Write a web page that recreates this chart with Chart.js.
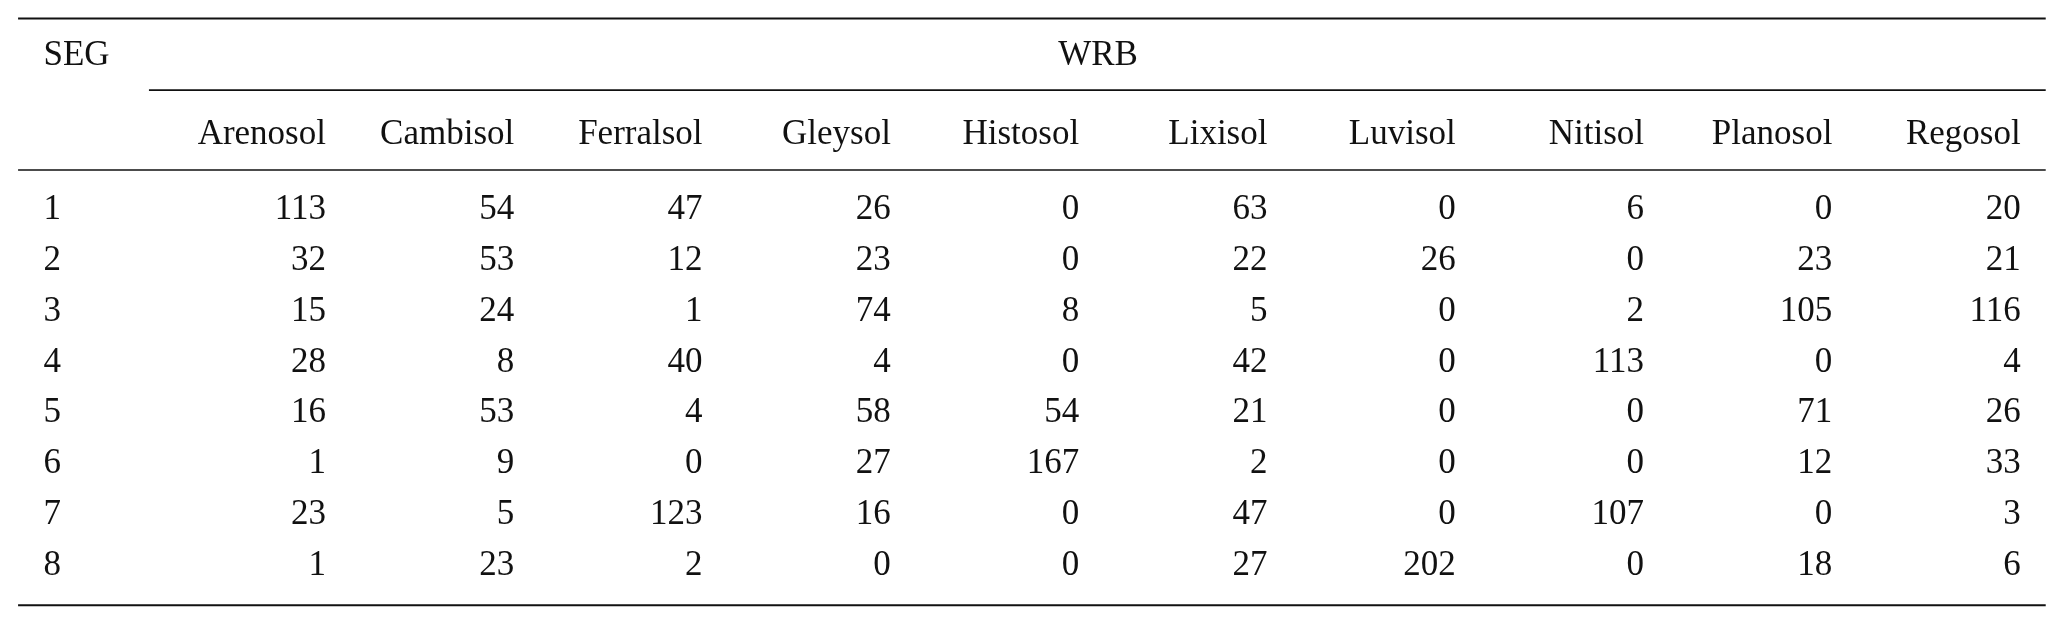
<!DOCTYPE html>
<html><head><meta charset="utf-8">
<script src="https://cdn.jsdelivr.net/npm/chart.js@4.4.1/dist/chart.umd.min.js"></script>
<style>html,body{margin:0;padding:0;background:#fff}</style>
</head><body>
<canvas id="c" width="2067" height="622"></canvas>
<script>
const columns = ["Arenosol","Cambisol","Ferralsol","Gleysol","Histosol","Lixisol","Luvisol","Nitisol","Planosol","Regosol"];
const segments = ["1","2","3","4","5","6","7","8"];
const seg1 = [113,54,47,26,0,63,0,6,0,20];
const seg2 = [32,53,12,23,0,22,26,0,23,21];
const seg3 = [15,24,1,74,8,5,0,2,105,116];
const seg4 = [28,8,40,4,0,42,0,113,0,4];
const seg5 = [16,53,4,58,54,21,0,0,71,26];
const seg6 = [1,9,0,27,167,2,0,0,12,33];
const seg7 = [23,5,123,16,0,47,0,107,0,3];
const seg8 = [1,23,2,0,0,27,202,0,18,6];
const rows = [seg1,seg2,seg3,seg4,seg5,seg6,seg7,seg8];
const rowHeader = "SEG", groupHeader = "WRB";

const points = [];
rows.forEach((r,ri)=>r.forEach((v,ci)=>points.push({x:ci,y:ri+1,v:v})));

const FONT = '35px "Liberation Serif", "DejaVu Serif", serif';
const tablePlugin = {
  id:'table',
  afterDraw(chart){
    const ctx = chart.ctx, xs = chart.scales.x, ys = chart.scales.y;
    const X = v=>xs.getPixelForValue(v), Y = v=>ys.getPixelForValue(v);
    ctx.save();
    ctx.fillStyle = '#111'; ctx.strokeStyle = '#111';
    ctx.font = FONT; ctx.textBaseline = 'middle';
    const rule=(x0,x1,y,w)=>{ctx.lineWidth=w;ctx.beginPath();ctx.moveTo(X(x0),Y(y));ctx.lineTo(X(x1),Y(y));ctx.stroke();};
    rule(-1.635,9.133,-2.73,2);
    rule(-0.94,9.133,-1.32,1.6);
    rule(-1.635,9.133,0.253,1.6);
    rule(-1.635,9.133,8.82,2);
    ctx.textAlign='left';
    ctx.fillText(rowHeader, X(-1.5), Y(-2));
    ctx.textAlign='center';
    ctx.fillText(groupHeader, X(4.1), Y(-2));
    ctx.textAlign='right';
    columns.forEach((c,i)=>ctx.fillText(c, X(i), Y(-0.45)));
    ctx.textAlign='left';
    segments.forEach((s,i)=>ctx.fillText(s, X(-1.5), Y(i+1.04)));
    ctx.textAlign='right';
    chart.data.datasets[0].data.forEach(p=>ctx.fillText(String(p.v), X(p.x), Y(p.y+0.04)));
    ctx.restore();
  }
};

new Chart(document.getElementById('c'), {
  type:'scatter',
  data:{datasets:[{data:points, pointRadius:0, pointHoverRadius:0}]},
  options:{
    responsive:false, animation:false, devicePixelRatio:1,
    layout:{padding:0},
    plugins:{legend:{display:false},tooltip:{enabled:false}},
    scales:{
      x:{type:'linear',min:-1.731,max:9.246,display:false},
      y:{type:'linear',min:-3.094,max:9.150,reverse:true,display:false}
    }
  },
  plugins:[tablePlugin]
});
</script>
</body></html>
